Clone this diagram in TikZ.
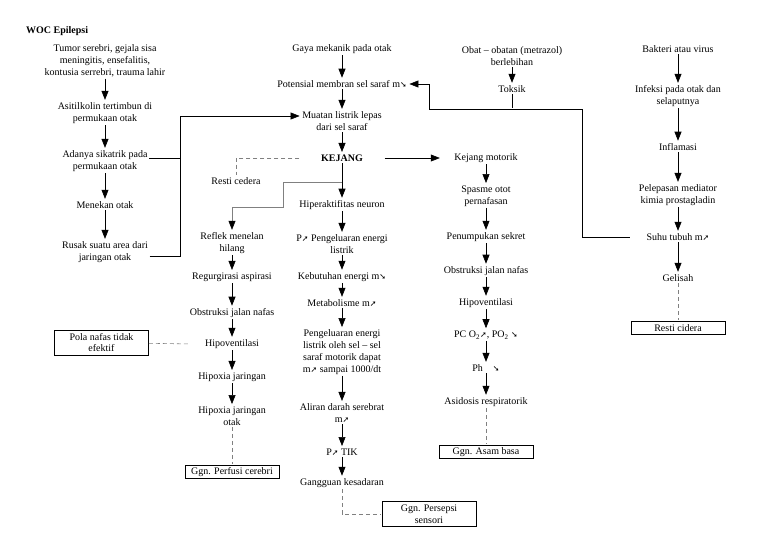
\documentclass[tikz,border=0pt]{standalone}
\usepackage{fontspec}
\setmainfont{Liberation Serif}
\newfontfamily\symfont{DejaVu Sans}
\usetikzlibrary{positioning, arrows.meta}
\newcommand{\naik}{{\symfont\fontsize{8}{8}\selectfont ➚}}
\newcommand{\turun}{{\symfont\fontsize{8}{8}\selectfont ➘}}

\begin{document}
\fontsize{10}{11.8}\selectfont
\begin{tikzpicture}[x=1pt, y=-1pt, shorten >=1pt,
    teks/.style={align=center, inner sep=1.5pt},
    kotak/.style={draw, line width=0.6pt, align=center, inner sep=1pt, minimum width=94pt, minimum height=13pt},
    panah/.style={-{Triangle[width=7pt,length=9pt]}, line width=0.6pt},
    garis/.style={line width=0.6pt},
    putus/.style={draw=gray, line width=0.6pt, dash pattern=on 4pt off 3pt}]
    \useasboundingbox (0,0) rectangle (768,543);

    \node[anchor=west, inner sep=0pt, font=\bfseries] (judul) at (26,31) {WOC Epilepsi};

    % kolom kiri
    \node[teks] (tumor) at (105,61) {Tumor serebri, gejala sisa\\meningitis, ensefalitis,\\kontusia serrebri, trauma lahir};
    \node[teks] (asitil) at (105,113) {Asitilkolin tertimbun di\\permukaan otak};
    \node[teks] (sikatrik) at (105,161) {Adanya sikatrik pada\\permukaan otak};
    \node[teks] (menekan) at (105,205) {Menekan otak};
    \node[teks] (rusak) at (105,252) {Rusak suatu area dari\\jaringan otak};

    % kolom tengah
    \node[teks] (gaya) at (342,49) {Gaya mekanik pada otak};
    \node[teks] (potensial) at (342,84) {Potensial membran sel saraf m\turun};
    \node[teks] (muatan) at (342,121) {Muatan listrik lepas\\dari sel saraf};
    \node[teks, font=\bfseries] (kejang) at (342,158) {KEJANG};
    \node[teks] (resti) at (236,181) {Resti cedera};
    \node[teks] (hiper) at (342,205) {Hiperaktifitas neuron};
    \node[teks] (pengeluaran) at (342,244) {P\naik{} Pengeluaran energi\\listrik};
    \node[teks] (kebutuhan) at (342,277) {Kebutuhan energi m\turun};
    \node[teks] (metabolisme) at (342,303) {Metabolisme m\naik};
    \node[teks] (listrik) at (342,352) {Pengeluaran energi\\listrik oleh sel -- sel\\saraf motorik dapat\\m\naik{} sampai 1000/dt};
    \node[teks] (aliran) at (342,413) {Aliran darah serebrat\\m\naik};
    \node[teks] (tik) at (342,452) {P\naik{} TIK};
    \node[teks] (gangguan) at (342,483) {Gangguan kesadaran};
    \node[kotak, minimum height=25pt] (persepsi) at (429,514) {Ggn. Persepsi\\sensori};

    % cabang refleks
    \node[teks] (reflek) at (232,243) {Reflek menelan\\hilang};
    \node[teks] (regurgirasi) at (232,277) {Regurgirasi aspirasi};
    \node[teks] (obstruksiA) at (232,313) {Obstruksi jalan nafas};
    \node[teks] (hipoA) at (232,344) {Hipoventilasi};
    \node[teks] (hipoxia) at (232,377) {Hipoxia jaringan};
    \node[teks] (hipoxiaotak) at (232,416) {Hipoxia jaringan\\otak};
    \node[kotak] (perfusi) at (232,472) {Ggn. Perfusi cerebri};
    \node[kotak, minimum height=25pt] (pola) at (101.5,342.5) {Pola nafas tidak\\efektif};

    % kejang motorik
    \node[teks] (motorik) at (486,158) {Kejang motorik};
    \node[teks] (spasme) at (486,196) {Spasme otot\\pernafasan};
    \node[teks] (sekret) at (486,237) {Penumpukan sekret};
    \node[teks] (obstruksiB) at (486,271) {Obstruksi jalan nafas};
    \node[teks] (hipoB) at (486,303) {Hipoventilasi};
    \node[teks] (pco) at (486,335) {PC O\textsubscript{2}\naik, PO\textsubscript{2} \turun};
    \node[teks] (ph) at (486,368) {Ph\quad\turun};
    \node[teks] (asidosis) at (486,402) {Asidosis respiratorik};
    \node[kotak] (asam) at (486,452) {Ggn. Asam basa};

    % obat
    \node[teks] (obat) at (512,56) {Obat -- obatan (metrazol)\\berlebihan};
    \node[teks] (toksik) at (512,89) {Toksik};

    % kolom kanan
    \node[teks] (bakteri) at (678,49) {Bakteri atau virus};
    \node[teks] (infeksi) at (678,96) {Infeksi pada otak dan\\selaputnya};
    \node[teks] (inflamasi) at (678,147) {Inflamasi};
    \node[teks] (pelepasan) at (678,195) {Pelepasan mediator\\kimia prostagladin};
    \node[teks] (suhu) at (678,237) {Suhu tubuh m\naik};
    \node[teks] (gelisah) at (678,278) {Gelisah};
    \node[kotak] (restiB) at (678,328) {Resti cidera};

    \coordinate (siku) at (180,116);
    \coordinate (cabang) at (342,182);
    \coordinate (belok) at (283,207);
    \coordinate (sudut) at (582,109);
    \coordinate (balik) at (429,109);

    \path[panah]
        (tumor) edge (asitil)
        (asitil) edge (sikatrik)
        (sikatrik) edge (menekan)
        (menekan) edge (rusak)
        (gaya) edge (potensial)
        (potensial) edge (muatan)
        (muatan) edge (kejang)
        (kejang) edge (hiper)
        (hiper) edge (pengeluaran)
        (pengeluaran) edge (kebutuhan)
        (kebutuhan) edge (metabolisme)
        (metabolisme) edge (listrik)
        (listrik) edge (aliran)
        (aliran) edge (tik)
        (tik) edge (gangguan)
        (reflek) edge (regurgirasi)
        (regurgirasi) edge (obstruksiA)
        (obstruksiA) edge (hipoA)
        (hipoA) edge (hipoxia)
        (hipoxia) edge (hipoxiaotak)
        (motorik) edge (spasme)
        (spasme) edge (sekret)
        (sekret) edge (obstruksiB)
        (obstruksiB) edge (hipoB)
        (hipoB) edge (pco)
        (pco) edge (ph)
        (ph) edge (asidosis)
        (obat) edge (toksik)
        (bakteri) edge (infeksi)
        (infeksi) edge (inflamasi)
        (inflamasi) edge (pelepasan)
        (pelepasan) edge (suhu)
        (suhu) edge (gelisah);

    \draw[garis] ([yshift=3pt]sikatrik.east) -| (siku);
    \draw[panah] ([yshift=-4pt]rusak.east) -| (siku) -- (siku -| muatan.west);
    \draw[panah] ([xshift=20pt]kejang.east) -- ([xshift=-12pt]motorik.west);
    \draw[panah, draw=gray, -{Triangle[width=7pt,length=9pt,black]}] (cabang) -| (belok) -| (reflek.north);
    \draw[panah] ([xshift=-15pt]suhu.west) -| (sudut) -- (balik) |- (potensial.east);
    \draw[garis] (toksik) -- (toksik |- sudut);

    \draw[putus] ([xshift=-20pt]kejang.west) -| (resti.north);
    \draw[putus] (pola) -- ([xshift=-12pt]hipoA.west);
    \draw[putus] (hipoxiaotak) -- (perfusi);
    \draw[putus] (asidosis) -- (asam);
    \draw[putus] (gelisah) -- (restiB);
    \draw[putus] (gangguan) |- (persepsi.west);

\end{tikzpicture}
\end{document}
